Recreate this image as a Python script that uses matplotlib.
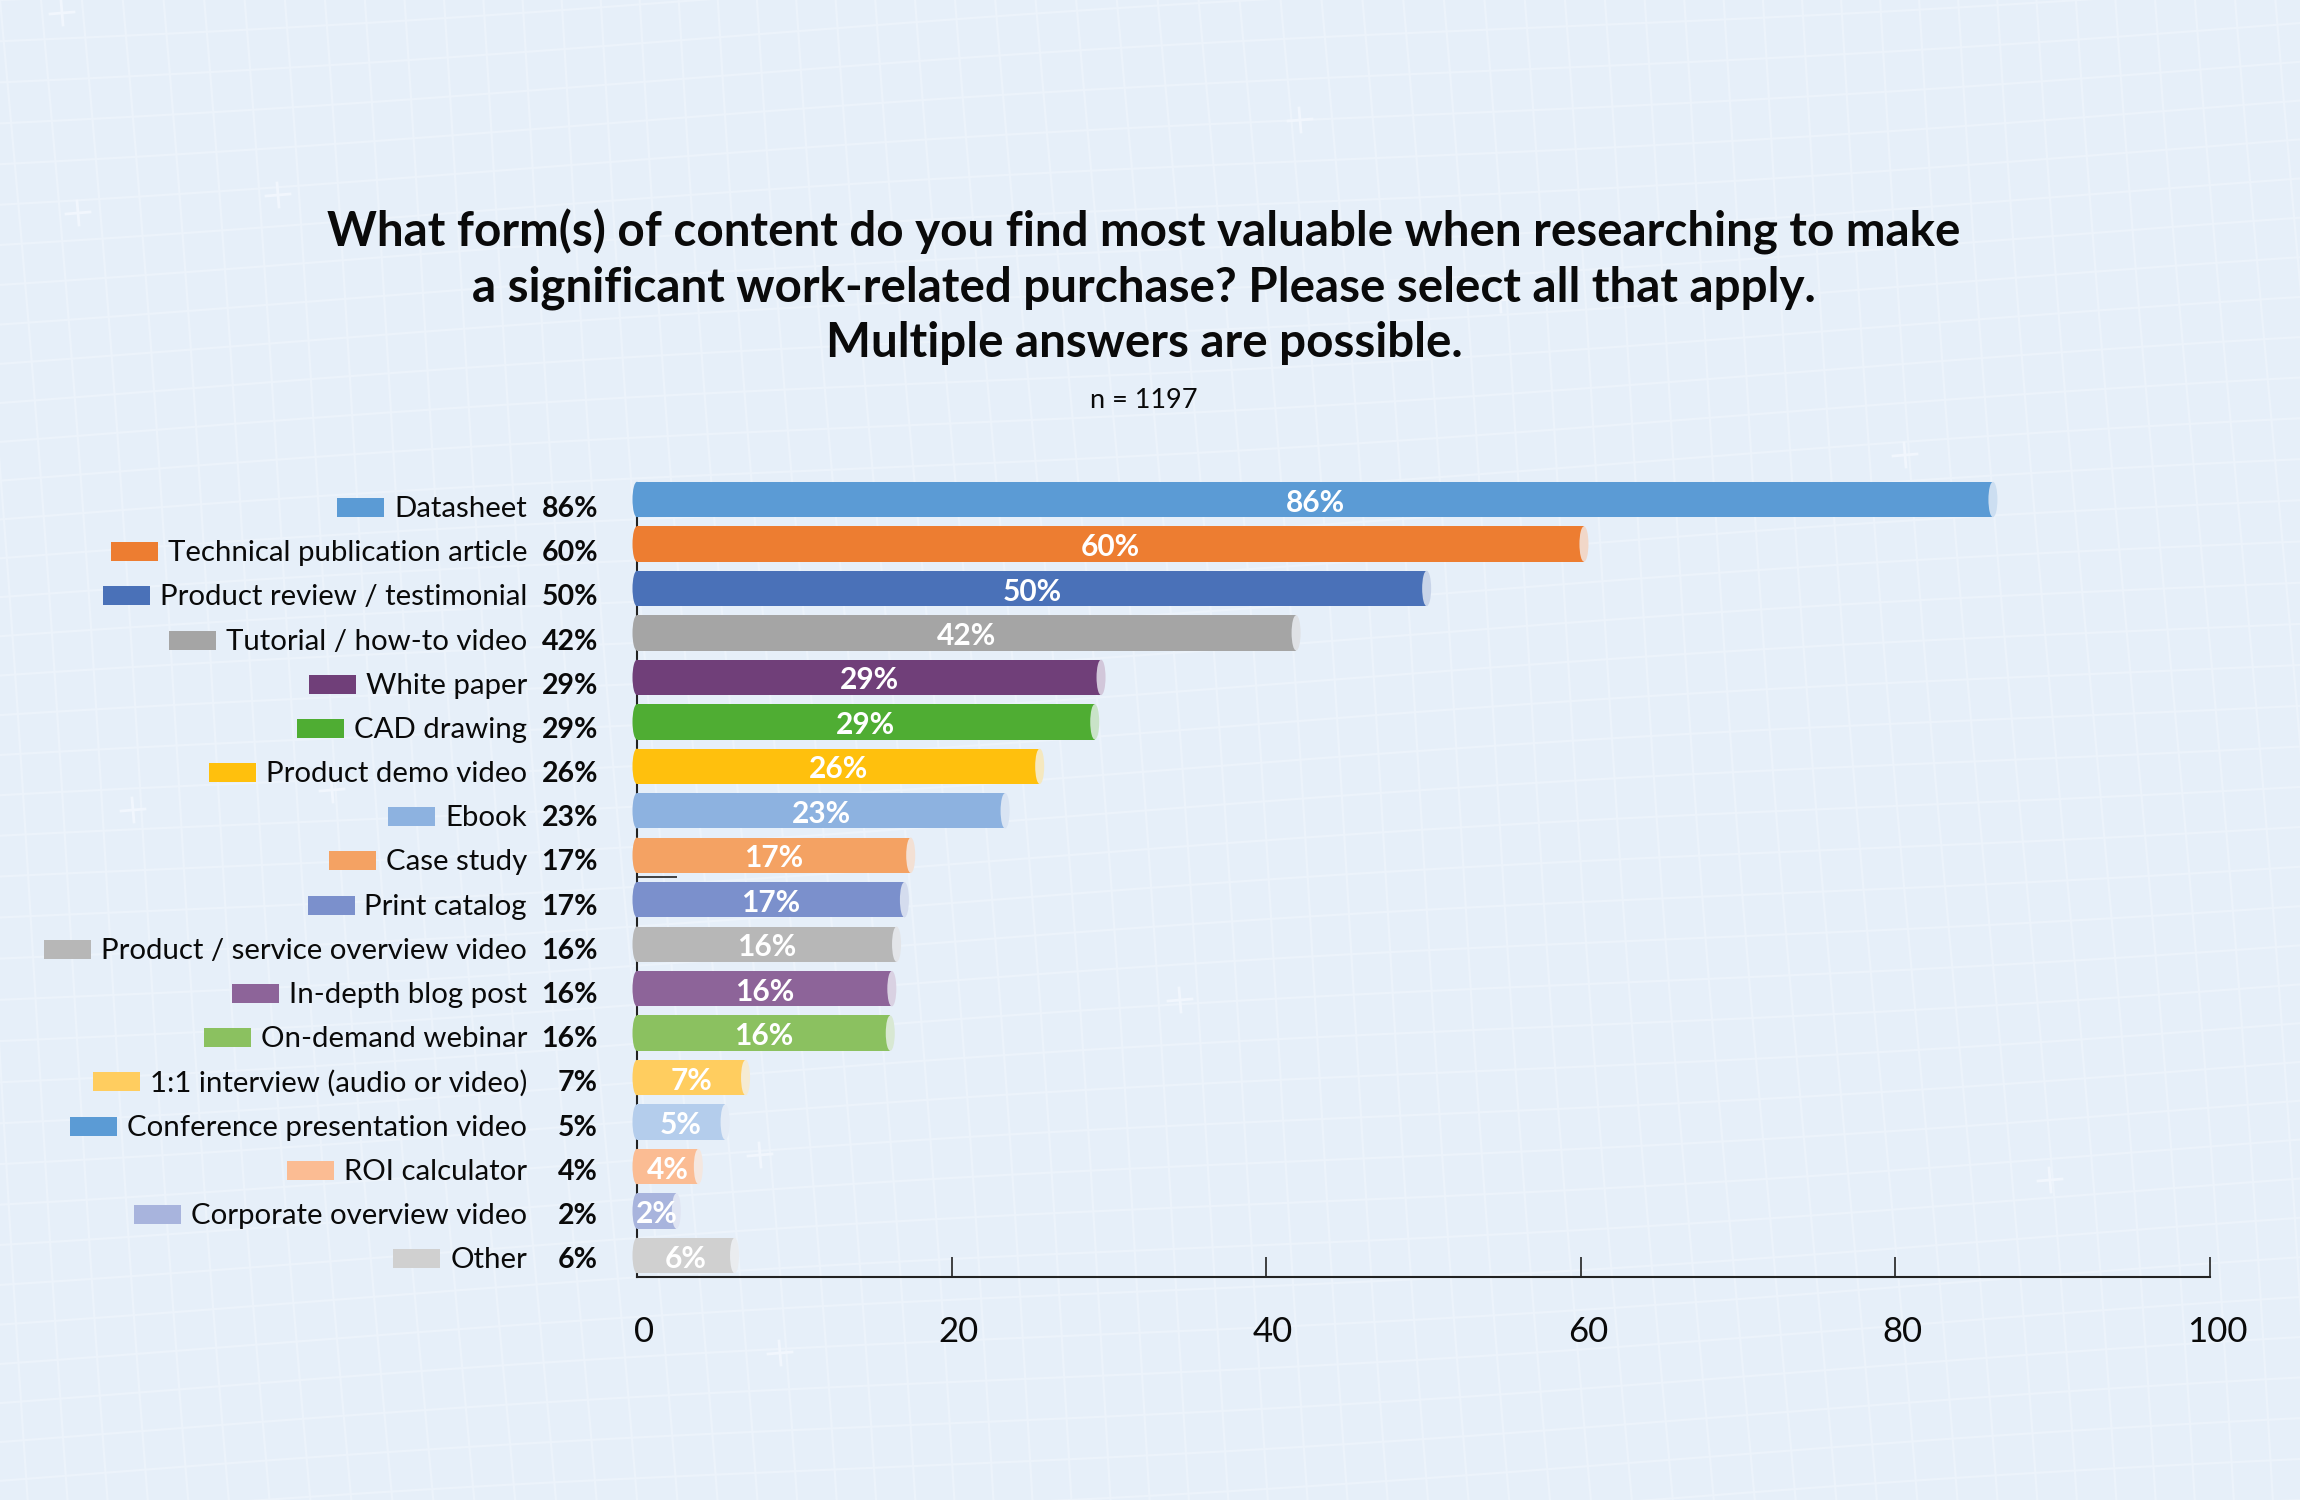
import numpy as np
import matplotlib
matplotlib.use("Agg")
import matplotlib.pyplot as plt
from matplotlib.colors import to_rgb
from matplotlib.patches import Ellipse, Rectangle
from matplotlib.transforms import ScaledTranslation

title_lines = [
    "What form(s) of content do you find most valuable when researching to make",
    "a significant work-related purchase? Please select all that apply.",
    "Multiple answers are possible.",
]
subtitle = "n = 1197"

categories = [
    "Datasheet", "Technical publication article", "Product review / testimonial",
    "Tutorial / how-to video", "White paper", "CAD drawing", "Product demo video",
    "Ebook", "Case study", "Print catalog", "Product / service overview video",
    "In-depth blog post", "On-demand webinar", "1:1 interview (audio or video)",
    "Conference presentation video", "ROI calculator", "Corporate overview video", "Other",
]
# bar lengths, the printed labels are rounded differently
values = [86.2, 60.2, 50.2, 41.9, 29.5, 29.1, 25.6, 23.4, 17.4, 17.0, 16.5, 16.2, 16.1,
          6.9, 5.6, 3.9, 2.5, 6.2]
value_labels = ["86%", "60%", "50%", "42%", "29%", "29%", "26%", "23%", "17%", "17%",
                "16%", "16%", "16%", "7%", "5%", "4%", "2%", "6%"]
x_ticks = [0, 20, 40, 60, 80, 100]

bar_colors = ["#5b9bd5", "#ed7d31", "#4a71b8", "#a5a5a5", "#703f79", "#4fad33", "#ffc00d",
              "#8db2e0", "#f4a263", "#7b90cc", "#b7b7b7", "#8d6499", "#8bc160", "#ffcd5f",
              "#b4cdec", "#fbbc93", "#a8b4dd", "#d0d0d0"]
swatch_colors = bar_colors[:14] + ["#5b9bd5"] + bar_colors[15:]

FONT = "Lato"
W, H = 2300, 1500
BG = "#e6eff9"
INK = "#0a0a0a"

fig = plt.figure(figsize=(W / 100, H / 100), dpi=100, facecolor=BG)

# full page axes in pixels, for the paper texture, titles and the left legend
page = fig.add_axes([0, 0, 1, 1], zorder=0)
page.set_xlim(0, W)
page.set_ylim(H, 0)
page.axis("off")

# warped graph paper in the background
s = np.linspace(-300, 2800, 200)
for k in np.arange(-40, 90):
    u = k * 40.0
    x = u + 0.075 * s + 5 * np.sin(s / 310 + k * 0.2)
    page.plot(x, s, color="#ecf3fb", lw=1.6, zorder=1)
    y = u - 0.06 * s + 5 * np.sin(s / 280 + k * 0.25)
    page.plot(s, y, color="#ecf3fb", lw=1.6, zorder=1)

sparkles = [(62, 13), (78, 213), (278, 195), (332, 790), (133, 810), (1905, 455),
            (780, 1353), (760, 1155), (1180, 1000), (1500, 300), (2050, 1180), (1300, 120)]
for sx, sy in sparkles:
    page.plot([sx - 12, sx + 12], [sy + 1, sy - 1], color="#f1f6fd", lw=2, zorder=2)
    page.plot([sx - 1, sx + 1], [sy - 12, sy + 12], color="#f1f6fd", lw=2, zorder=2)

for line, ty in zip(title_lines, [232, 288, 343]):
    page.text(1144, ty, line, ha="center", va="center", fontsize=34.2, fontweight="bold",
              family=FONT, color=INK, zorder=5)
page.text(1144, 400, subtitle, ha="center", va="center", fontsize=19.5,
          family=FONT, color=INK, zorder=5)

# left legend: swatch, name, bold value, all hanging off a baseline
renderer = fig.canvas.get_renderer()
for i, name in enumerate(categories):
    base = 517 + i * 44.18
    t = page.text(527, base, name, ha="right", va="baseline", fontsize=21.2,
                  family=FONT, color=INK, zorder=5)
    page.text(598, base, value_labels[i], ha="right", va="baseline", fontsize=20.5,
              fontweight="bold", family=FONT, color=INK, zorder=5)
    left = page.transData.inverted().transform(t.get_window_extent(renderer))[0, 0]
    page.add_patch(Rectangle((left - 57, base - 19), 47, 19, color=swatch_colors[i], lw=0, zorder=4))

# chart axes, placed so 0 and 100 land on the reference positions
x0, x100, y_top, y_base = 637, 2210, 491, 1277
ax = fig.add_axes([x0 / W, 1 - y_base / H, (x100 - x0) / W, (y_base - y_top) / H], zorder=3)
ax.patch.set_alpha(0)
pitch = 44.47
ax.set_xlim(0, 100)
ax.set_ylim((y_base - 499.5) / pitch, (y_top - 499.5) / pitch)
bar_h = 35.4 / pitch
cap_w = 9 / ((x100 - x0) / 100)

pos = np.arange(len(categories))
ax.barh(pos, values, height=bar_h, color=bar_colors, lw=0, zorder=3, clip_on=False)
for i, v in enumerate(values):
    col = np.array(to_rgb(bar_colors[i]))
    ax.add_patch(Ellipse((0, i), cap_w, bar_h, color=bar_colors[i], lw=0, zorder=3, clip_on=False))
    light = col * 0.25 + 0.75 * np.array([0.95, 0.96, 0.98])
    ax.add_patch(Ellipse((v, i), cap_w, bar_h, color=light, lw=0, zorder=4, clip_on=False))
    ax.text(v / 2, i + 0.07, value_labels[i], ha="center", va="center", color="white",
            fontsize=21.5, fontweight="bold", family=FONT, zorder=5)

# stray little tick in the reference between Case study and Print catalog
ax.hlines((877 - 499.5) / pitch, 0, 40 / ((x100 - x0) / 100), color="#333333", lw=1.3, zorder=2)

for side in ["top", "right"]:
    ax.spines[side].set_visible(False)
for side in ["left", "bottom"]:
    ax.spines[side].set_linewidth(1.5)
    ax.spines[side].set_color("#222222")
    ax.spines[side].set_zorder(2)
ax.set_yticks([])
ax.set_xticks(x_ticks)
ax.tick_params(axis="x", direction="in", length=14.4, width=1.2, color="#222222", pad=28,
               labelsize=25, labelcolor=INK)
for lab in ax.get_xticklabels():
    lab.set_fontfamily(FONT)
    lab.set_transform(lab.get_transform() + ScaledTranslation(7 / 100, 0, fig.dpi_scale_trans))

fig.savefig("out.png", dpi=100, facecolor=BG)
